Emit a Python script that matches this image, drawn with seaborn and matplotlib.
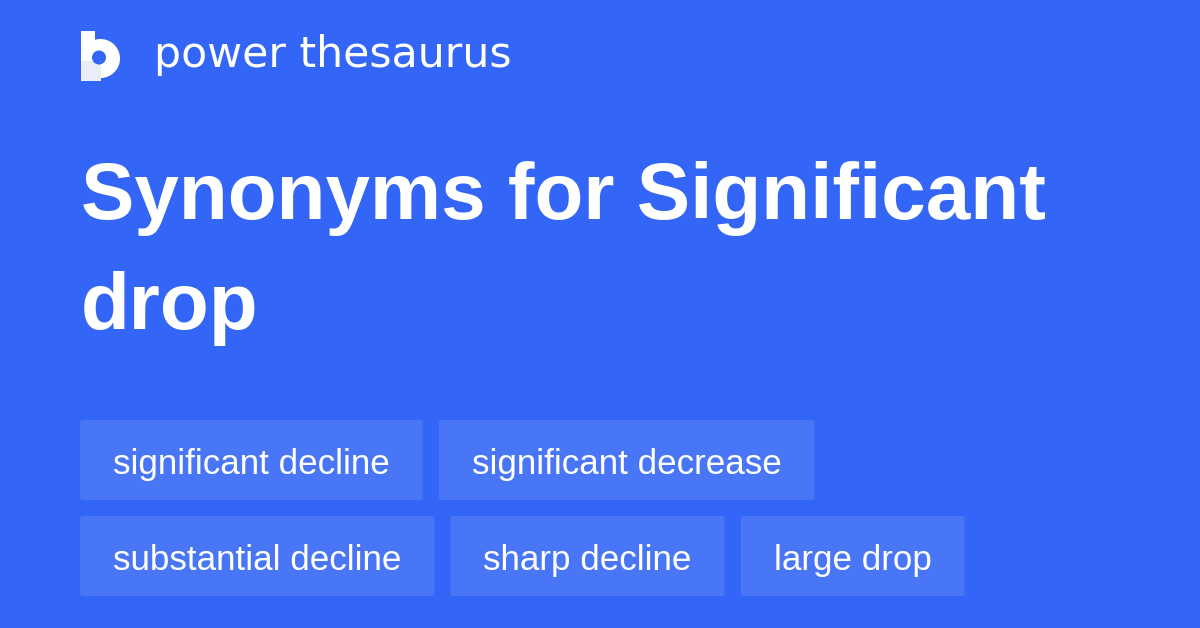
import matplotlib
matplotlib.use('Agg')
import matplotlib.pyplot as plt
import seaborn as sns
from matplotlib.patches import FancyBboxPatch, Rectangle, Circle

brand = 'power thesaurus'
title_lines = ['Synonyms for Significant', 'drop']
synonyms = ['significant decline', 'significant decrease',
            'substantial decline', 'sharp decline', 'large drop']

bg = '#3365f6'
box_col = '#4876f7'

sns.set_theme(style='white')
plt.rcParams['font.family'] = ['Liberation Sans', 'DejaVu Sans']

W, H = 1200, 628
fig = plt.figure(figsize=(12, 6.28), dpi=100)
fig.patch.set_facecolor(bg)
ax = fig.add_axes([0, 0, 1, 1])
ax.set_xlim(0, W)
ax.set_ylim(H, 0)
ax.set_facecolor(bg)
ax.axis('off')

fig.canvas.draw()
renderer = fig.canvas.get_renderer()

def px(v):
    return v * 0.72

def text_w(s, size, **kw):
    t = ax.text(0, 0, s, fontsize=size, **kw)
    w = t.get_window_extent(renderer=renderer).width
    t.remove()
    return w

# logo
ax.add_patch(Circle((100.5, 58.5), 19.5, color='white', lw=0))
ax.add_patch(Rectangle((81, 58), 20, 23, color='#e9edf5', lw=0))
ax.add_patch(Rectangle((81, 31), 14, 30, color='white', lw=0))
ax.add_patch(Circle((99, 57.5), 7, color=bg, lw=0))

# brand name, scaled to the reference width
bkw = dict(family=['DejaVu Sans'])
bsize = px(38) * 358 / text_w(brand, px(38), **bkw)
ax.text(154, 67, brand, color='white', fontsize=bsize, va='baseline', ha='left', **bkw)

# title
for i, line in enumerate(title_lines):
    ax.text(81, 219 + i * 110, line, color='white', fontsize=px(80), fontweight='bold',
            va='baseline', ha='left')

# synonym boxes, flowing left to right
x, y = 80, 420
pad, gap, bh, max_x = 33, 16, 80, 1120
fs = px(35)
for word in synonyms:
    bw = text_w(word, fs) + 2 * pad
    if x + bw > max_x:
        x = 80
        y += bh + gap
    ax.add_patch(FancyBboxPatch((x, y), bw, bh, boxstyle='round,pad=0,rounding_size=3',
                                fc=box_col, ec='none'))
    ax.text(x + pad, y + bh / 2 + 1, word, fontsize=fs, color='white',
            va='center_baseline', ha='left')
    x += bw + gap

fig.savefig('out.png', dpi=100, facecolor=bg)
